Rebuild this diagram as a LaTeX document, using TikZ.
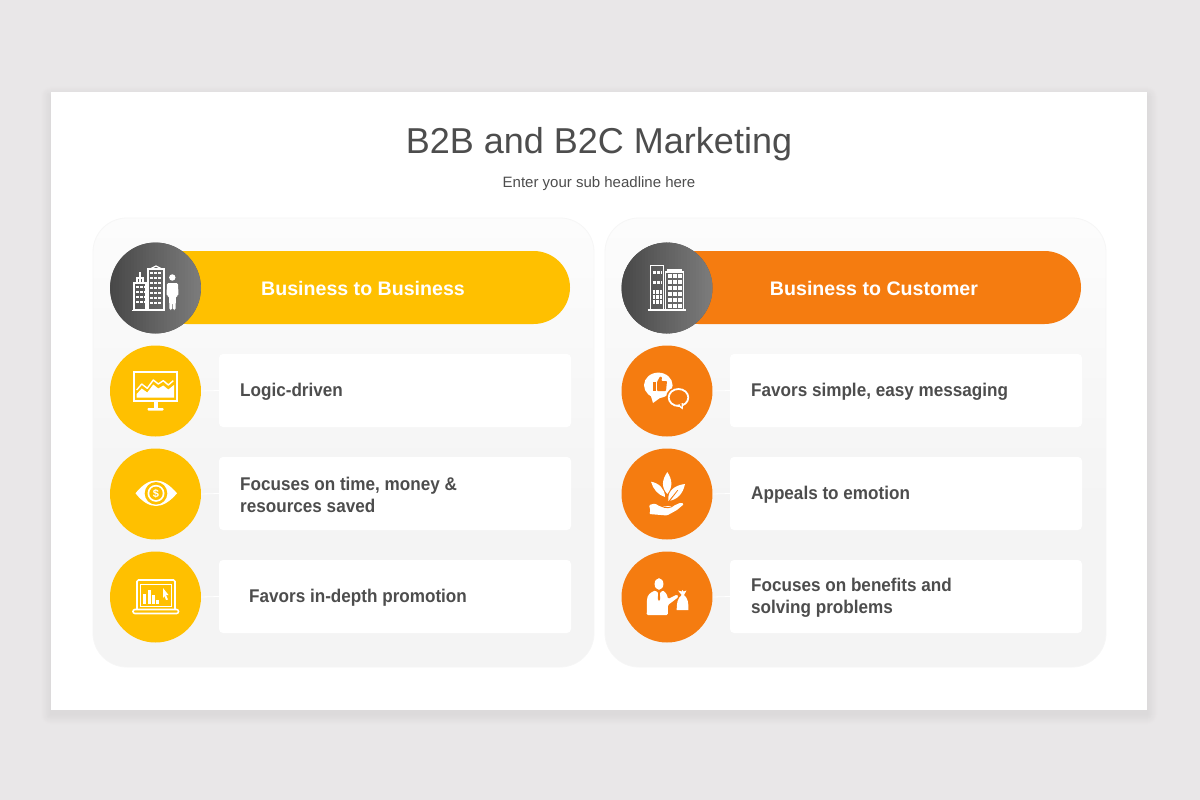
\documentclass[tikz,border=0pt]{standalone}
\usepackage{fontspec}
\setmainfont{Liberation Sans}
\newfontfamily\lblf[FakeStretch=0.93]{Liberation Sans}
\definecolor{bgc}{HTML}{E9E7E8}
\definecolor{yel}{HTML}{FFC000}
\definecolor{org}{HTML}{F57C10}
\definecolor{txt}{HTML}{4D4D4D}
\definecolor{pan}{HTML}{F4F4F4}
\definecolor{pantop}{HTML}{FCFCFC}
\definecolor{darka}{HTML}{484848}
\definecolor{darkb}{HTML}{7C7C7C}
\newcommand{\chartline}[1]{\draw[white,line width=1.4pt,line join=round] #1;}
\tikzset{
 pill/.style={rounded corners=36.5pt},
 dark/.style={circle,minimum size=91pt,inner sep=0pt,fill=darka!50!darkb},
 dot/.style={circle,minimum size=91pt,inner sep=0pt,fill=#1},
 card/.style={rectangle,fill=white,rounded corners=4pt,minimum width=352pt,minimum height=73pt,inner sep=0pt},
 lbl/.style={anchor=west,align=left,text=txt,font=\lblf\fontsize{18.4}{22}\selectfont\bfseries,inner sep=0pt},
 head/.style={text=white,font=\fontsize{19.6}{24}\selectfont\bfseries,inner sep=0pt},
 wire/.style={draw=white,line width=.8pt},
 ico/.style={white,line width=1.3pt},
}
\begin{document}
\begin{tikzpicture}[x=1pt,y=-1pt]
\useasboundingbox (0,0) rectangle (1200,800);
\fill[bgc] (0,0) rectangle (1200,800);
% card shadow, solid tints from faint to less faint
\foreach \d in {10,...,1}{
 \pgfmathsetmacro\m{100-(11-\d)*0.55}
 \fill[bgc!\m!black,rounded corners=\d pt] (51-\d,92-\d+5) rectangle (1147+\d,710+\d+4);
}
\fill[white] (51,92) rectangle (1147,710);
\node[text=txt,font=\fontsize{36}{40}\selectfont,inner sep=0pt] (title) at (599,144) {B2B and B2C Marketing};
\node[text=txt,font=\fontsize{15}{18}\selectfont,inner sep=0pt] (sub) at (599,184) {Enter your sub headline here};
% panels
\foreach \px in {93,605}{
 \begin{scope}
  \clip[rounded corners=34pt] (\px,218) rectangle (\px+501,667);
  \foreach \i in {0,...,44}{
   \pgfmathsetmacro\m{min(100,100*\i/28)}
   \fill[pan!\m!pantop] (\px,218+\i*10) rectangle (\px+501,218+\i*10+11);
  }
 \end{scope}
 \draw[black!3.5,line width=.8pt,rounded corners=34pt] (\px,218) rectangle (\px+501,667);
}
\fill[yel,pill] (150,251) rectangle (570,324);
\fill[org,pill] (662,251) rectangle (1081,324);
\node[head] (h1) at (363,288) {Business to Business};
\node[head] (h2) at (874,288) {Business to Customer};
% rows
\node[dark] (l0) at (155.5,288) {};
\node[dark] (r0) at (667,288) {};
\foreach \n in {l0,r0}{
 \begin{scope}
  \clip (\n) circle (45.4);
  \foreach \i in {0,...,30}{
   \pgfmathsetmacro\m{100*\i/30}
   \fill[darkb!\m!darka] ([xshift=-46pt+\i*3pt,yshift=-46pt]\n) rectangle ([xshift=-46pt+\i*3pt+3.6pt,yshift=46pt]\n);
  }
 \end{scope}
}
\node[dot=yel] (l1) at (155.5,391) {};
\node[dot=yel] (l2) at (155.5,494) {};
\node[dot=yel] (l3) at (155.5,597) {};
\node[dot=org] (r1) at (667,391) {};
\node[dot=org] (r2) at (667,494) {};
\node[dot=org] (r3) at (667,597) {};
\node[card] (a1) at (395,390.5) {};
\node[card] (a2) at (395,493.5) {};
\node[card] (a3) at (395,596.5) {};
\node[card] (b1) at (906,390.5) {};
\node[card] (b2) at (906,493.5) {};
\node[card] (b3) at (906,596.5) {};
\foreach \p/\q in {l1/a1,l2/a2,l3/a3,r1/b1,r2/b2,r3/b3}{\draw[wire] (\p.east) -- (\q.west);}
\node[lbl] (t1) at (240,391.5) {Logic-driven};
\node[lbl] (t2) at (240,494.5) {Focuses on time, money \&\\resources saved};
\node[lbl] (t3) at (249,597.5) {Favors in-depth promotion};
\node[lbl] (u1) at (751,391.5) {Favors simple, easy messaging};
\node[lbl] (u2) at (751,494.5) {Appeals to emotion};
\node[lbl] (u3) at (751,597.5) {Focuses on benefits and\\solving problems};
% ---- icon: buildings and man
\begin{scope}[ico]
 \draw (134,310) rectangle (146,283);
 \draw (140,283) -- (140,272);
 \draw (137,283) -- (137,278) -- (143,278) -- (143,283);
 \draw (148,310) rectangle (164,269);
 \draw (150,269) -- (156,266) -- (162,269);
 \draw (132,310.5) -- (165,310.5);
 \foreach \y in {287,292,297,302}{\draw[line width=2pt,dash pattern=on 2.5pt off 1.5pt] (136,\y) -- (145,\y);}
 \foreach \y in {273,278,283,288,293,298,303}{\draw[line width=2.4pt,dash pattern=on 2.6pt off 1.6pt] (150,\y) -- (163,\y);}
\end{scope}
\fill[white] (172.3,277.5) circle (3.2);
\fill[white,rounded corners=1.5pt] (167,283) -- (178,283) -- (178.5,296) -- (176,296) -- (175.5,310) -- (173,310) -- (172.5,298) -- (172,310) -- (169.5,310) -- (169,296) -- (166.5,296) -- cycle;
% ---- icon: two buildings
\begin{scope}[ico]
 \draw (650.5,265.5) rectangle (663.5,309.5);
 \draw (665.5,272) rectangle (683.5,309.5);
 \draw (647.5,310) -- (685.5,310);
 \draw (667,270) -- (682,270);
 \foreach \y in {272,282}{\draw[line width=3pt,dash pattern=on 3pt off 1pt] (652.5,\y) -- (662,\y);}
 \foreach \y in {292,297,302}{\draw[line width=3.5pt,dash pattern=on 2.5pt off 1pt] (652.5,\y) -- (662,\y);}
 \foreach \y in {276,282,288,294,300,305.5}{\draw[line width=4pt,dash pattern=on 4pt off 1.2pt] (667.5,\y) -- (682.5,\y);}
\end{scope}
% ---- icon: monitor
\draw[white,line width=2pt] (134,372) rectangle (177,401);
\chartline{(136.7,390) -- (141.7,384) -- (147.3,388.3) -- (153.3,380) -- (158.3,384) -- (163.3,380.7) -- (168.3,385) -- (173.3,380.7)}
\fill[white] (136.7,397.5) -- (136.7,394) -- (141.7,388.5) -- (147.3,392.5) -- (153.3,384.5) -- (158.3,388.5) -- (163.3,385.5) -- (168.3,389.5) -- (174,385) -- (174,397.5) -- cycle;
\fill[white] (153.5,402) rectangle (158,408);
\fill[white,rounded corners=.8pt] (147.5,408) rectangle (163.5,410.5);
% ---- icon: eye
\fill[white] (135.5,493.3) .. controls (142,485) and (149,480.5) .. (156,480.5) .. controls (163,480.5) and (170,485) .. (177,493.3) .. controls (170,501.5) and (163,506) .. (156,506) .. controls (149,506) and (142,501.5) .. (135.5,493.3) -- cycle;
\fill[yel] (156,493.3) circle (11.3);
\fill[white] (156,493.3) circle (8.5);
\fill[yel] (156,493.3) circle (6.7);
\node[text=white,font=\fontsize{11}{11}\selectfont\bfseries,inner sep=0pt] (dollar) at (156,493.5) {\$};
% ---- icon: laptop
\draw[white,line width=1.6pt,rounded corners=1.5pt] (137,609.5) -- (137,580) -- (175,580) -- (175,609.5);
\draw[white,line width=1pt] (140.5,584) rectangle (171.5,606.5);
\draw[white,line width=1.6pt,rounded corners=2pt] (133,609.5) rectangle (178.5,613.5);
\foreach \x/\t in {143.3/594,147.5/590,151.7/595,155.8/600}{\fill[white] (\x,\t) rectangle (\x+3,603.5);}
\fill[white] (163,588) -- (168.5,595) -- (166,595) -- (168,599.5) -- (166,600) -- (164.5,596) -- (163,598) -- cycle;
% ---- icon: chat
\fill[white] (658.3,385.3) ellipse (14.3 and 12.7);
\fill[white] (650,393) -- (653,403) -- (664,395) -- cycle;
\fill[org] (653,381.5) rectangle (655.5,391);
\fill[org,rounded corners=.8pt] (657,382) -- (660,376.5) -- (662,377) -- (661.5,381) -- (667,381) -- (666,391) -- (657,391) -- cycle;
\fill[org] (678.5,397.5) ellipse (12.5 and 11);
\draw[white,line width=1.8pt,fill=org] (678.5,397.5) ellipse (9.8 and 8.5);
\fill[white] (677,405) -- (682.7,409.5) -- (683,403) -- cycle;
\fill[org] (679.5,404.5) -- (681.7,406.8) -- (681.7,403.5) -- cycle;
% ---- icon: plant on hand
\fill[white] (667.3,472) .. controls (662,480) and (661,487) .. (667.3,494) .. controls (673,487) and (672.5,480) .. (667.3,472) -- cycle;
\fill[white] (651,481.7) .. controls (653,489) and (658,495) .. (665,497) .. controls (665,489) and (659,483) .. (651,481.7) -- cycle;
\fill[white] (685,484) .. controls (676,485) and (667,490) .. (668.3,501) .. controls (677,500) and (683,494) .. (685,484) -- cycle;
\fill[org] (669,500.5) -- (677.5,490) -- (678,490.5) -- (670,501) -- cycle;
\fill[white,rounded corners=1.2pt] (649,505) -- (650.5,511) -- (649,514) -- (667,515.5) -- (677,510) -- (684,504) -- (681,502.5) -- (673,506) -- (660,506.5) -- (655,503.5) -- cycle;
\draw[org,line width=.9pt,line cap=round] (660,505.5) .. controls (666,509) and (671,508) .. (674,505);
% ---- icon: person with bag
\fill[white] (659,584) ellipse (4.4 and 5.8);
\fill[white,rounded corners=1.2pt] (646.7,615) -- (647,601) .. controls (647,595) and (651,592) .. (655.5,590.5) -- (659,594) -- (662.5,590.5) .. controls (665,591.5) and (667,594) .. (668,599) -- (677,594.5) -- (678.5,597) -- (668,605) -- (667.8,615) -- cycle;
\fill[org] (658.3,592.5) -- (659.7,592.5) -- (660.2,599) -- (659,601) -- (657.8,599) -- cycle;
\fill[white] (681.7,595) -- (678,590.5) -- (681.7,591.5) -- (682.5,590) -- (683.5,591.5) -- (686.5,590.5) -- (684,595) .. controls (688,598) and (688.8,604) .. (688.3,610) -- (676.7,610) .. controls (676.5,604) and (677.5,598) .. (681.7,595) -- cycle;
\end{tikzpicture}
\end{document}
